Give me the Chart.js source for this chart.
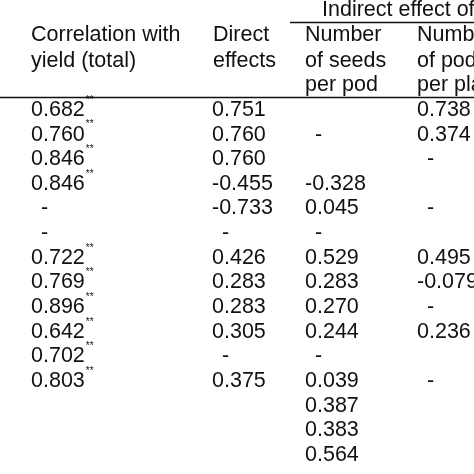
<!DOCTYPE html>
<html><head><meta charset="utf-8">
<script src="https://cdn.jsdelivr.net/npm/chart.js@4"></script>
<style>html,body{margin:0;padding:0;background:#fff}#c{display:block}</style>
</head><body>
<canvas id="c" width="474" height="474"></canvas>
<script>
// table values, one array per column (rows top to bottom)
const correlation = ['0.682', '0.760', '0.846', '0.846', '-', '-', '0.722', '0.769', '0.896', '0.642', '0.702', '0.803', '', '', ''];
const directEffects = ['0.751', '0.760', '0.760', '-0.455', '-0.733', '-', '0.426', '0.283', '0.283', '0.305', '-', '0.375', '', '', ''];
const seedsPerPod = ['', '-', '', '-0.328', '0.045', '-', '0.529', '0.283', '0.270', '0.244', '-', '0.039', '0.387', '0.383', '0.564'];
const podsPerPlant = ['0.738', '0.374', '-', '', '-', '', '0.495', '-0.079', '-', '0.236', '', '-', '', '', ''];
const columns = [correlation, directEffects, seedsPerPod, podsPerPlant];

const COL_X = [31, 212, 305, 417];
const FONT = '21.5px "Liberation Sans", Arial, sans-serif';

const points = [];
columns.forEach((col, c) => col.forEach((t, r) => {
  if (t !== '') points.push({ x: COL_X[c], y: r, text: t, col: c });
}));

const tablePlugin = {
  id: 'table',
  afterDatasetsDraw(chart) {
    const ctx = chart.ctx, xs = chart.scales.x, ys = chart.scales.y;
    ctx.save();
    ctx.fillStyle = '#111';
    ctx.font = FONT;
    ctx.textBaseline = 'middle';
    ctx.textAlign = 'left';
    const isDash = (t) => t === '-';
    chart.data.datasets[0].data.forEach((p) => {
      const px = xs.getPixelForValue(p.x) + (isDash(p.text) ? 10 : 0);
      const py = ys.getPixelForValue(p.y);
      ctx.fillText(p.text, px, py);
      if (p.col === 0 && !isDash(p.text)) {
        const w = ctx.measureText(p.text).width;
        ctx.font = '10px "Liberation Sans", Arial, sans-serif';
        ctx.fillText('**', px + w + 1, py - 10);
        ctx.font = FONT;
      }
    });
    // header
    const hdr = [
      [31, -3.05, 'Correlation with'], [31, -2.0, 'yield (total)'],
      [213, -3.05, 'Direct'], [213, -2.0, 'effects'],
      [305, -3.05, 'Number'], [305, -2.0, 'of seeds'], [305, -1.0, 'per pod'],
      [417, -3.05, 'Number'], [417, -2.0, 'of pods'], [417, -1.0, 'per plant'],
      [322, -4.05, 'Indirect effect of'],
    ];
    hdr.forEach(([x, y, t]) => ctx.fillText(t, xs.getPixelForValue(x), ys.getPixelForValue(y)));
    ctx.strokeStyle = '#111';
    ctx.lineWidth = 1.5;
    ctx.beginPath();
    ctx.moveTo(xs.getPixelForValue(290), ys.getPixelForValue(-3.55));
    ctx.lineTo(xs.getPixelForValue(474), ys.getPixelForValue(-3.55));
    ctx.moveTo(xs.getPixelForValue(0), ys.getPixelForValue(-0.5));
    ctx.lineTo(xs.getPixelForValue(474), ys.getPixelForValue(-0.5));
    ctx.stroke();
    ctx.restore();
  }
};

new Chart(document.getElementById('c'), {
  type: 'scatter',
  data: { datasets: [{ data: points, pointRadius: 0, pointHoverRadius: 0 }] },
  options: {
    responsive: false,
    animation: false,
    layout: { padding: 0 },
    plugins: { legend: { display: false }, tooltip: { enabled: false } },
    scales: {
      x: { type: 'linear', min: 0, max: 474, display: false },
      y: { type: 'linear', min: -4.46, max: 14.77, reverse: true, display: false },
    },
  },
  plugins: [tablePlugin],
});
</script>
</body></html>
